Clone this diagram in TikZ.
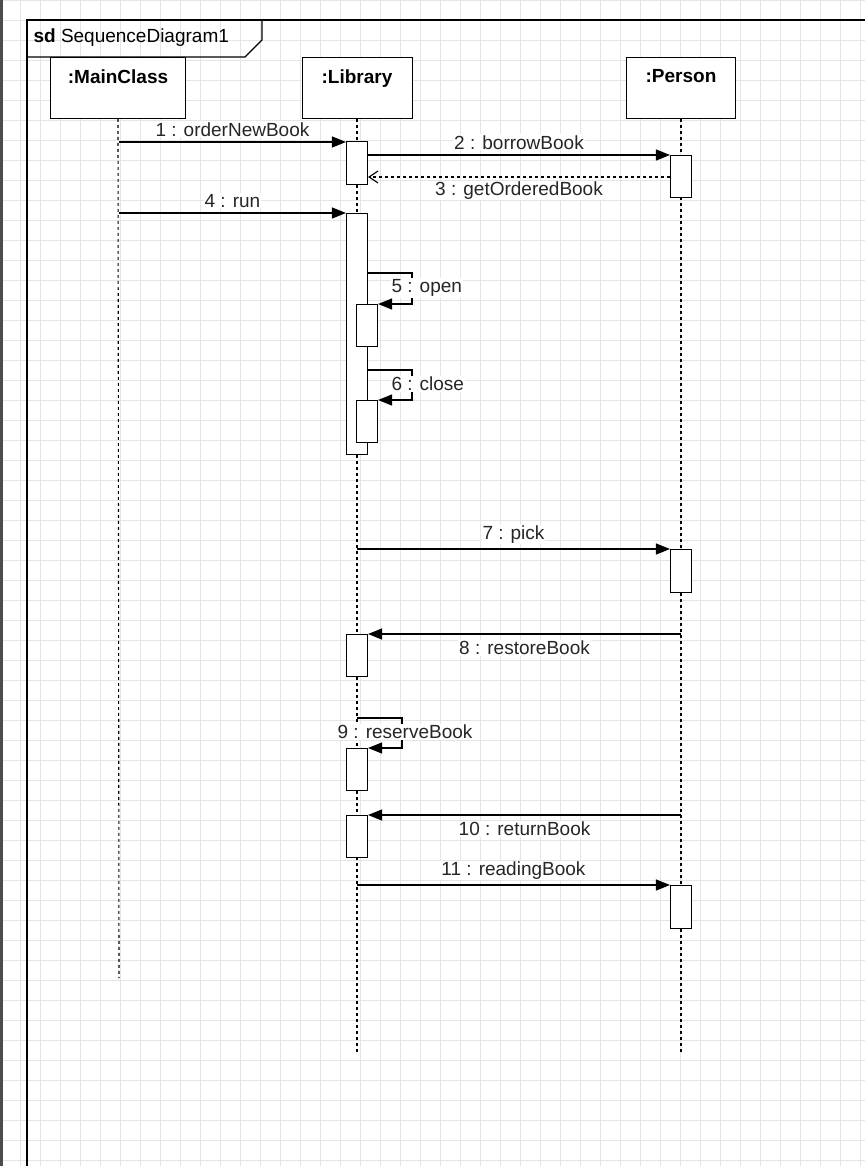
\documentclass[tikz,border=0pt]{standalone}
\usepackage{fontspec}
\setmainfont{Liberation Sans}
\usetikzlibrary{arrows.meta, positioning}
\tikzset{
  obj/.style={draw, thick, fill=white, minimum width=#1, minimum height=61pt, inner sep=0pt, anchor=north},
  head/.style={anchor=north, inner sep=0pt, font=\bfseries\fontsize{19}{22}\selectfont},
  act/.style={draw, fill=white, minimum width=21pt, inner sep=0pt},
  msg/.style={-{Triangle[length=14pt,width=11pt]}},
  ret/.style={dashed, -{Straight Barb[length=9pt,width=12pt]}},
  life/.style={dashed},
  lbl/.style={font=\fontsize{19}{22}\selectfont, text=black!85, inner sep=1pt}
}
\begin{document}
\begin{tikzpicture}[x=1pt, y=-1pt, line width=1.1pt]
  \useasboundingbox (0,0) rectangle (865,1166);
  \fill[white] (0,0) rectangle (865,1166);
  % grid
  \foreach \g in {0,20,...,1160} \draw[black!10, line width=0.6pt] (0,\g) -- (865,\g);
  \foreach \g in {0,20,...,860} \draw[black!10, line width=0.6pt] (\g,0) -- (\g,1166);
  \fill[black!70] (0,0) rectangle (3,1166);
  % frame
  \draw (27,1166) -- (27,20) -- (865,20);
  \node[anchor=west, inner sep=0pt, font=\fontsize{19}{22}\selectfont] (title) at (33,38) {\textbf{sd} SequenceDiagram1};
  \draw (27,57) -- (245,57) -- (262,40) -- (262,20);
  % objects
  \node[obj=135pt] (main) at (118,57) {};
  \node[head] at (118,69) {:MainClass};
  \node[obj=110pt] (lib) at (357,57) {};
  \node[head] at (357,69) {:Library};
  \node[obj=109pt] (per) at (681,57) {};
  \node[head] at (681,69) {:Person};
  % lifelines
  \coordinate (mainEnd) at (119,978);
  \coordinate (libEnd) at (357,1052);
  \coordinate (perEnd) at (681,1052);
  \draw[life] (main.south) -- (mainEnd);
  \draw[life] (lib.south) -- (libEnd);
  \draw[life] (per.south) -- (perEnd);
  % activations
  \node[act, minimum height=43pt, anchor=north] (a1) at (357,141) {};
  \node[act, minimum height=241pt, anchor=north] (a2) at (357,213) {};
  \node[act, minimum height=42pt, anchor=north] (a3) at (367,304) {};
  \node[act, minimum height=42pt, anchor=north] (a4) at (367,400) {};
  \node[act, minimum height=42pt, anchor=north] (p1) at (681,155) {};
  \node[act, minimum height=43pt, anchor=north] (p2) at (681,549) {};
  \node[act, minimum height=42pt, anchor=north] (a5) at (357,634) {};
  \node[act, minimum height=42pt, anchor=north] (a6) at (357,748) {};
  \node[act, minimum height=42pt, anchor=north] (a7) at (357,815) {};
  \node[act, minimum height=43pt, anchor=north] (p3) at (681,885) {};
  % messages
  \coordinate (m1) at (119,142);
  \draw[msg] (m1) -- (m1 -| a1.west) node[lbl, pos=0.5, above=4pt, fill=white] {1 : orderNewBook};
  \draw[msg] (a1.east |- p1.north) -- (p1.north west) node[lbl, midway, above=4pt, fill=white] {2 : borrowBook};
  \coordinate (m3) at (670,177);
  \draw[ret] (m3) -- (m3 -| a1.east) node[lbl, midway, below=3pt, fill=white] {3 : getOrderedBook};
  \coordinate (m4) at (119,213);
  \draw[msg] (m4) -- (a2.north west) node[lbl, midway, above=4pt, fill=white] {4 : run};
  \draw[msg] (a2.east |- 0,273) -- (412,273) -- (412,304) -- (a3.north east);
  \node[lbl, anchor=west, fill=white] (l5) at (390,288) {5 : open};
  \draw[msg] (a2.east |- 0,370) -- (412,370) -- (412,400) -- (a4.north east);
  \node[lbl, anchor=west, fill=white] (l6) at (390,384) {6 : close};
  \coordinate (m7) at (357,549);
  \draw[msg] (m7) -- (p2.north west) node[lbl, midway, above=4pt, fill=white] {7 : pick};
  \coordinate (m8) at (681,634);
  \draw[msg] (m8) -- (a5.north east) node[lbl, midway, below=5pt, fill=white] {8 : restoreBook};
  \draw[msg] (357,718) -- (402,718) -- (402,748) -- (a6.north east);
  \node[lbl, fill=white] (l9) at (405,732) {9 : reserveBook};
  \coordinate (m10) at (681,815);
  \draw[msg] (m10) -- (a7.north east) node[lbl, midway, below=5pt, fill=white] {10 : returnBook};
  \coordinate (m11) at (357,885);
  \draw[msg] (m11) -- (p3.north west) node[lbl, midway, above=4pt, fill=white] {11 : readingBook};
\end{tikzpicture}
\end{document}
